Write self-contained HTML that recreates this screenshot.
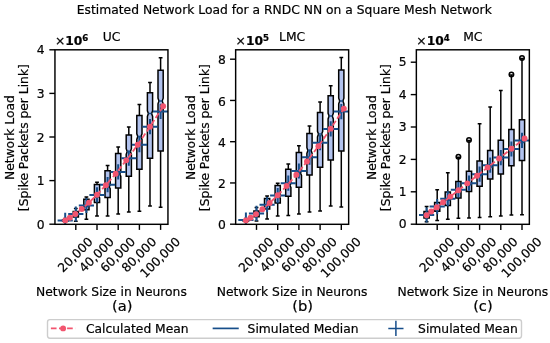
<!DOCTYPE html>
<html><head><meta charset="utf-8"><title>Estimated Network Load</title>
<style>html,body{margin:0;padding:0;background:#fff;}svg{display:block;}text{stroke:#000;stroke-width:0.2px;}</style></head>
<body>
<svg width="550" height="343" viewBox="0 0 550 343" font-family='"DejaVu Sans", "Liberation Sans", sans-serif' font-size="12.32" fill="#000">
<rect width="550" height="343" fill="#fff"/>
<text x="284.3" y="13.6" text-anchor="middle">Estimated Network Load for a RNDC NN on a Square Mesh Network</text>
<clipPath id="c0"><rect x="54.95" y="49.8" width="113.0" height="174.50"/></clipPath>
<g clip-path="url(#c0)">
<path d="M65.20 221.20V222.30M65.20 219.80V218.60M63.30 222.30H67.10M63.30 218.60H67.10" stroke="#000000" stroke-width="1.5" fill="none"/>
<path d="M62.60 221.20H67.80V219.80H62.60Z" fill="#b1c2ee" stroke="#000000" stroke-width="1.5" stroke-linejoin="miter"/>
<path d="M62.60 220.70H67.80" stroke="#174e8a" stroke-width="1.5"/>
<path d="M75.80 217.00V221.30M75.80 211.50V208.50M73.90 221.30H77.70M73.90 208.50H77.70" stroke="#000000" stroke-width="1.5" fill="none"/>
<path d="M73.20 217.00H78.40V211.50H73.20Z" fill="#b1c2ee" stroke="#000000" stroke-width="1.5" stroke-linejoin="miter"/>
<path d="M73.20 214.80H78.40" stroke="#174e8a" stroke-width="1.5"/>
<path d="M86.40 209.70V219.30M86.40 199.20V197.10M84.50 219.30H88.30M84.50 197.10H88.30" stroke="#000000" stroke-width="1.5" fill="none"/>
<path d="M83.80 209.70H89.00V199.20H83.80Z" fill="#b1c2ee" stroke="#000000" stroke-width="1.5" stroke-linejoin="miter"/>
<path d="M83.80 206.60H89.00" stroke="#174e8a" stroke-width="1.5"/>
<path d="M97.00 202.60V216.00M97.00 184.50V182.20M95.10 216.00H98.90M95.10 182.20H98.90" stroke="#000000" stroke-width="1.5" fill="none"/>
<path d="M94.40 202.60L99.60 202.60L99.60 197.77L98.61 196.50L99.60 195.23L99.60 184.50L94.40 184.50L94.40 195.23L95.39 196.50L94.40 197.77Z" fill="#b1c2ee" stroke="#000000" stroke-width="1.5" stroke-linejoin="miter"/>
<path d="M95.39 196.50H98.61" stroke="#174e8a" stroke-width="1.5"/>
<path d="M107.60 197.60V216.00M107.60 170.70V165.50M105.70 216.00H109.50M105.70 165.50H109.50" stroke="#000000" stroke-width="1.5" fill="none"/>
<path d="M105.00 197.60L110.20 197.60L110.20 188.68L109.21 186.80L110.20 184.92L110.20 170.70L105.00 170.70L105.00 184.92L105.99 186.80L105.00 188.68Z" fill="#b1c2ee" stroke="#000000" stroke-width="1.5" stroke-linejoin="miter"/>
<path d="M105.99 186.80H109.21" stroke="#174e8a" stroke-width="1.5"/>
<path d="M118.20 188.00V213.90M118.20 153.60V147.00M116.30 213.90H120.10M116.30 147.00H120.10" stroke="#000000" stroke-width="1.5" fill="none"/>
<path d="M115.60 188.00L120.80 188.00L120.80 176.41L119.81 174.00L120.80 171.59L120.80 153.60L115.60 153.60L115.60 171.59L116.59 174.00L115.60 176.41Z" fill="#b1c2ee" stroke="#000000" stroke-width="1.5" stroke-linejoin="miter"/>
<path d="M116.59 174.00H119.81" stroke="#174e8a" stroke-width="1.5"/>
<path d="M128.80 176.30V212.10M128.80 135.00V126.90M126.90 212.10H130.70M126.90 126.90H130.70" stroke="#000000" stroke-width="1.5" fill="none"/>
<path d="M126.20 176.30L131.40 176.30L131.40 154.30L130.41 151.50L131.40 148.70L131.40 135.00L126.20 135.00L126.20 148.70L127.19 151.50L126.20 154.30Z" fill="#b1c2ee" stroke="#000000" stroke-width="1.5" stroke-linejoin="miter"/>
<path d="M127.19 151.50H130.41" stroke="#174e8a" stroke-width="1.5"/>
<path d="M139.40 169.30V211.20M139.40 115.60V104.60M137.50 211.20H141.30M137.50 104.60H141.30" stroke="#000000" stroke-width="1.5" fill="none"/>
<path d="M136.80 169.30L142.00 169.30L142.00 139.40L141.01 136.60L142.00 133.80L142.00 115.60L136.80 115.60L136.80 133.80L137.79 136.60L136.80 139.40Z" fill="#b1c2ee" stroke="#000000" stroke-width="1.5" stroke-linejoin="miter"/>
<path d="M137.79 136.60H141.01" stroke="#174e8a" stroke-width="1.5"/>
<path d="M150.00 158.20V206.00M150.00 92.80V82.50M148.10 206.00H151.90M148.10 82.50H151.90" stroke="#000000" stroke-width="1.5" fill="none"/>
<path d="M147.40 158.20L152.60 158.20L152.60 116.40L151.61 113.60L152.60 110.80L152.60 92.80L147.40 92.80L147.40 110.80L148.39 113.60L147.40 116.40Z" fill="#b1c2ee" stroke="#000000" stroke-width="1.5" stroke-linejoin="miter"/>
<path d="M148.39 113.60H151.61" stroke="#174e8a" stroke-width="1.5"/>
<path d="M160.60 150.90V207.20M160.60 70.20V57.70M158.70 207.20H162.50M158.70 57.70H162.50" stroke="#000000" stroke-width="1.5" fill="none"/>
<path d="M158.00 150.90L163.20 150.90L163.20 103.80L162.21 101.00L163.20 98.20L163.20 70.20L158.00 70.20L158.00 98.20L158.99 101.00L158.00 103.80Z" fill="#b1c2ee" stroke="#000000" stroke-width="1.5" stroke-linejoin="miter"/>
<path d="M158.99 101.00H162.21" stroke="#174e8a" stroke-width="1.5"/>
<path d="M57.60 220.40H72.80M65.20 212.80V228.00" stroke="#174e8a" stroke-width="2.0" fill="none"/>
<path d="M68.20 214.00H83.40M75.80 206.40V221.60" stroke="#174e8a" stroke-width="2.0" fill="none"/>
<path d="M78.80 205.50H94.00M86.40 197.90V213.10" stroke="#174e8a" stroke-width="2.0" fill="none"/>
<path d="M89.40 194.90H104.60M97.00 187.30V202.50" stroke="#174e8a" stroke-width="2.0" fill="none"/>
<path d="M100.00 184.70H115.20M107.60 177.10V192.30" stroke="#174e8a" stroke-width="2.0" fill="none"/>
<path d="M110.60 171.90H125.80M118.20 164.30V179.50" stroke="#174e8a" stroke-width="2.0" fill="none"/>
<path d="M121.20 158.20H136.40M128.80 150.60V165.80" stroke="#174e8a" stroke-width="2.0" fill="none"/>
<path d="M131.80 144.70H147.00M139.40 137.10V152.30" stroke="#174e8a" stroke-width="2.0" fill="none"/>
<path d="M142.40 126.70H157.60M150.00 119.10V134.30" stroke="#174e8a" stroke-width="2.0" fill="none"/>
<path d="M153.00 111.40H168.20M160.60 103.80V119.00" stroke="#174e8a" stroke-width="2.0" fill="none"/>
<polyline points="65.20,220.40 69.86,217.68 75.38,213.93 81.74,208.97 88.94,202.63 97.00,194.76 105.90,185.20 115.66,173.78 126.26,160.34 137.70,144.72 150.00,126.77 163.14,106.32" fill="none" stroke="#f2556f" stroke-width="1.8" stroke-dasharray="5.65 2.45"/>
<circle cx="65.20" cy="220.40" r="2.95" fill="#f2556f"/>
<circle cx="69.86" cy="217.68" r="2.95" fill="#f2556f"/>
<circle cx="75.38" cy="213.93" r="2.95" fill="#f2556f"/>
<circle cx="81.74" cy="208.97" r="2.95" fill="#f2556f"/>
<circle cx="88.94" cy="202.63" r="2.95" fill="#f2556f"/>
<circle cx="97.00" cy="194.76" r="2.95" fill="#f2556f"/>
<circle cx="105.90" cy="185.20" r="2.95" fill="#f2556f"/>
<circle cx="115.66" cy="173.78" r="2.95" fill="#f2556f"/>
<circle cx="126.26" cy="160.34" r="2.95" fill="#f2556f"/>
<circle cx="137.70" cy="144.72" r="2.95" fill="#f2556f"/>
<circle cx="150.00" cy="126.77" r="2.95" fill="#f2556f"/>
<circle cx="163.14" cy="106.32" r="2.95" fill="#f2556f"/>
</g>
<rect x="54.95" y="49.8" width="113.0" height="174.50" fill="none" stroke="#000" stroke-width="1.45"/>
<path d="M54.95 224.20h-5.6" stroke="#000" stroke-width="1.4"/>
<text x="44.60" y="228.75" text-anchor="end">0</text>
<path d="M54.95 180.60h-5.6" stroke="#000" stroke-width="1.4"/>
<text x="44.60" y="185.15" text-anchor="end">1</text>
<path d="M54.95 137.00h-5.6" stroke="#000" stroke-width="1.4"/>
<text x="44.60" y="141.55" text-anchor="end">2</text>
<path d="M54.95 93.40h-5.6" stroke="#000" stroke-width="1.4"/>
<text x="44.60" y="97.95" text-anchor="end">3</text>
<path d="M54.95 49.80h-5.6" stroke="#000" stroke-width="1.4"/>
<text x="44.60" y="54.35" text-anchor="end">4</text>
<path d="M75.80 224.3v5.6" stroke="#000" stroke-width="1.4"/>
<text transform="translate(75.30 254.76) rotate(-45)" text-anchor="middle" y="4.3">20,000</text>
<path d="M97.00 224.3v5.6" stroke="#000" stroke-width="1.4"/>
<text transform="translate(96.50 254.76) rotate(-45)" text-anchor="middle" y="4.3">40,000</text>
<path d="M118.20 224.3v5.6" stroke="#000" stroke-width="1.4"/>
<text transform="translate(117.70 254.76) rotate(-45)" text-anchor="middle" y="4.3">60,000</text>
<path d="M139.40 224.3v5.6" stroke="#000" stroke-width="1.4"/>
<text transform="translate(138.90 254.76) rotate(-45)" text-anchor="middle" y="4.3">80,000</text>
<path d="M160.60 224.3v5.6" stroke="#000" stroke-width="1.4"/>
<text transform="translate(160.10 257.53) rotate(-45)" text-anchor="middle" y="4.3">100,000</text>
<text x="54.90" y="44.8">×<tspan font-weight="bold">10</tspan><tspan font-weight="bold" font-size="8.62" dy="-4.2">6</tspan></text>
<text x="111.45" y="40.5" text-anchor="middle">UC</text>
<text transform="translate(13.80 137.65) rotate(-90)" text-anchor="middle">Network Load</text>
<text transform="translate(28.10 137.65) rotate(-90)" text-anchor="middle">[Spike Packets per Link]</text>
<text x="111.45" y="295.5" text-anchor="middle">Network Size in Neurons</text>
<text x="122.30" y="310.5" text-anchor="middle" font-size="14.7">(a)</text>
<clipPath id="c1"><rect x="235.65" y="49.8" width="113.0" height="174.50"/></clipPath>
<g clip-path="url(#c1)">
<path d="M245.90 221.20V222.30M245.90 219.80V218.60M244.00 222.30H247.80M244.00 218.60H247.80" stroke="#000000" stroke-width="1.5" fill="none"/>
<path d="M243.30 221.20H248.50V219.80H243.30Z" fill="#b1c2ee" stroke="#000000" stroke-width="1.5" stroke-linejoin="miter"/>
<path d="M243.30 220.70H248.50" stroke="#174e8a" stroke-width="1.5"/>
<path d="M256.50 216.80V221.00M256.50 211.00V207.50M254.60 221.00H258.40M254.60 207.50H258.40" stroke="#000000" stroke-width="1.5" fill="none"/>
<path d="M253.90 216.80H259.10V211.00H253.90Z" fill="#b1c2ee" stroke="#000000" stroke-width="1.5" stroke-linejoin="miter"/>
<path d="M253.90 214.50H259.10" stroke="#174e8a" stroke-width="1.5"/>
<path d="M267.10 209.00V218.90M267.10 198.50V195.90M265.20 218.90H269.00M265.20 195.90H269.00" stroke="#000000" stroke-width="1.5" fill="none"/>
<path d="M264.50 209.00H269.70V198.50H264.50Z" fill="#b1c2ee" stroke="#000000" stroke-width="1.5" stroke-linejoin="miter"/>
<path d="M264.50 205.80H269.70" stroke="#174e8a" stroke-width="1.5"/>
<path d="M277.70 202.90V216.00M277.70 185.50V183.20M275.80 216.00H279.60M275.80 183.20H279.60" stroke="#000000" stroke-width="1.5" fill="none"/>
<path d="M275.10 202.90L280.30 202.90L280.30 198.22L279.31 197.00L280.30 195.78L280.30 185.50L275.10 185.50L275.10 195.78L276.09 197.00L275.10 198.22Z" fill="#b1c2ee" stroke="#000000" stroke-width="1.5" stroke-linejoin="miter"/>
<path d="M276.09 197.00H279.31" stroke="#174e8a" stroke-width="1.5"/>
<path d="M288.30 196.20V215.60M288.30 169.20V164.00M286.40 215.60H290.20M286.40 164.00H290.20" stroke="#000000" stroke-width="1.5" fill="none"/>
<path d="M285.70 196.20L290.90 196.20L290.90 187.39L289.91 185.50L290.90 183.61L290.90 169.20L285.70 169.20L285.70 183.61L286.69 185.50L285.70 187.39Z" fill="#b1c2ee" stroke="#000000" stroke-width="1.5" stroke-linejoin="miter"/>
<path d="M286.69 185.50H289.91" stroke="#174e8a" stroke-width="1.5"/>
<path d="M298.90 187.30V213.90M298.90 152.60V145.80M297.00 213.90H300.80M297.00 145.80H300.80" stroke="#000000" stroke-width="1.5" fill="none"/>
<path d="M296.30 187.30L301.50 187.30L301.50 175.43L300.51 173.00L301.50 170.57L301.50 152.60L296.30 152.60L296.30 170.57L297.29 173.00L296.30 175.43Z" fill="#b1c2ee" stroke="#000000" stroke-width="1.5" stroke-linejoin="miter"/>
<path d="M297.29 173.00H300.51" stroke="#174e8a" stroke-width="1.5"/>
<path d="M309.50 175.00V211.90M309.50 133.60V126.00M307.60 211.90H311.40M307.60 126.00H311.40" stroke="#000000" stroke-width="1.5" fill="none"/>
<path d="M306.90 175.00L312.10 175.00L312.10 153.30L311.11 150.50L312.10 147.70L312.10 133.60L306.90 133.60L306.90 147.70L307.89 150.50L306.90 153.30Z" fill="#b1c2ee" stroke="#000000" stroke-width="1.5" stroke-linejoin="miter"/>
<path d="M307.89 150.50H311.11" stroke="#174e8a" stroke-width="1.5"/>
<path d="M320.10 167.20V211.00M320.10 112.60V101.90M318.20 211.00H322.00M318.20 101.90H322.00" stroke="#000000" stroke-width="1.5" fill="none"/>
<path d="M317.50 167.20L322.70 167.20L322.70 136.90L321.71 134.10L322.70 131.30L322.70 112.60L317.50 112.60L317.50 131.30L318.49 134.10L317.50 136.90Z" fill="#b1c2ee" stroke="#000000" stroke-width="1.5" stroke-linejoin="miter"/>
<path d="M318.49 134.10H321.71" stroke="#174e8a" stroke-width="1.5"/>
<path d="M330.70 159.90V206.10M330.70 95.70V85.80M328.80 206.10H332.60M328.80 85.80H332.60" stroke="#000000" stroke-width="1.5" fill="none"/>
<path d="M328.10 159.90L333.30 159.90L333.30 118.90L332.31 116.10L333.30 113.30L333.30 95.70L328.10 95.70L328.10 113.30L329.09 116.10L328.10 118.90Z" fill="#b1c2ee" stroke="#000000" stroke-width="1.5" stroke-linejoin="miter"/>
<path d="M329.09 116.10H332.31" stroke="#174e8a" stroke-width="1.5"/>
<path d="M341.30 151.00V206.90M341.30 70.10V57.60M339.40 206.90H343.20M339.40 57.60H343.20" stroke="#000000" stroke-width="1.5" fill="none"/>
<path d="M338.70 151.00L343.90 151.00L343.90 103.80L342.91 101.00L343.90 98.20L343.90 70.10L338.70 70.10L338.70 98.20L339.69 101.00L338.70 103.80Z" fill="#b1c2ee" stroke="#000000" stroke-width="1.5" stroke-linejoin="miter"/>
<path d="M339.69 101.00H342.91" stroke="#174e8a" stroke-width="1.5"/>
<path d="M238.30 220.00H253.50M245.90 212.40V227.60" stroke="#174e8a" stroke-width="2.0" fill="none"/>
<path d="M248.90 213.40H264.10M256.50 205.80V221.00" stroke="#174e8a" stroke-width="2.0" fill="none"/>
<path d="M259.50 204.70H274.70M267.10 197.10V212.30" stroke="#174e8a" stroke-width="2.0" fill="none"/>
<path d="M270.10 195.60H285.30M277.70 188.00V203.20" stroke="#174e8a" stroke-width="2.0" fill="none"/>
<path d="M280.70 183.20H295.90M288.30 175.60V190.80" stroke="#174e8a" stroke-width="2.0" fill="none"/>
<path d="M291.30 171.00H306.50M298.90 163.40V178.60" stroke="#174e8a" stroke-width="2.0" fill="none"/>
<path d="M301.90 157.20H317.10M309.50 149.60V164.80" stroke="#174e8a" stroke-width="2.0" fill="none"/>
<path d="M312.50 142.70H327.70M320.10 135.10V150.30" stroke="#174e8a" stroke-width="2.0" fill="none"/>
<path d="M323.10 128.90H338.30M330.70 121.30V136.50" stroke="#174e8a" stroke-width="2.0" fill="none"/>
<path d="M333.70 111.60H348.90M341.30 104.00V119.20" stroke="#174e8a" stroke-width="2.0" fill="none"/>
<polyline points="245.90,220.45 250.56,217.79 256.08,214.10 262.44,209.22 269.64,203.00 277.70,195.28 286.60,185.90 296.36,174.70 306.96,161.53 318.40,146.22 330.70,128.64 343.84,108.61" fill="none" stroke="#f2556f" stroke-width="1.8" stroke-dasharray="5.65 2.45"/>
<circle cx="245.90" cy="220.45" r="2.95" fill="#f2556f"/>
<circle cx="250.56" cy="217.79" r="2.95" fill="#f2556f"/>
<circle cx="256.08" cy="214.10" r="2.95" fill="#f2556f"/>
<circle cx="262.44" cy="209.22" r="2.95" fill="#f2556f"/>
<circle cx="269.64" cy="203.00" r="2.95" fill="#f2556f"/>
<circle cx="277.70" cy="195.28" r="2.95" fill="#f2556f"/>
<circle cx="286.60" cy="185.90" r="2.95" fill="#f2556f"/>
<circle cx="296.36" cy="174.70" r="2.95" fill="#f2556f"/>
<circle cx="306.96" cy="161.53" r="2.95" fill="#f2556f"/>
<circle cx="318.40" cy="146.22" r="2.95" fill="#f2556f"/>
<circle cx="330.70" cy="128.64" r="2.95" fill="#f2556f"/>
<circle cx="343.84" cy="108.61" r="2.95" fill="#f2556f"/>
</g>
<rect x="235.65" y="49.8" width="113.0" height="174.50" fill="none" stroke="#000" stroke-width="1.45"/>
<path d="M235.65 224.20h-5.6" stroke="#000" stroke-width="1.4"/>
<text x="225.80" y="229.45" text-anchor="end">0</text>
<path d="M235.65 182.95h-5.6" stroke="#000" stroke-width="1.4"/>
<text x="225.80" y="188.20" text-anchor="end">2</text>
<path d="M235.65 141.70h-5.6" stroke="#000" stroke-width="1.4"/>
<text x="225.80" y="146.95" text-anchor="end">4</text>
<path d="M235.65 100.45h-5.6" stroke="#000" stroke-width="1.4"/>
<text x="225.80" y="105.70" text-anchor="end">6</text>
<path d="M235.65 59.20h-5.6" stroke="#000" stroke-width="1.4"/>
<text x="225.80" y="64.45" text-anchor="end">8</text>
<path d="M256.50 224.3v5.6" stroke="#000" stroke-width="1.4"/>
<text transform="translate(256.00 254.76) rotate(-45)" text-anchor="middle" y="4.3">20,000</text>
<path d="M277.70 224.3v5.6" stroke="#000" stroke-width="1.4"/>
<text transform="translate(277.20 254.76) rotate(-45)" text-anchor="middle" y="4.3">40,000</text>
<path d="M298.90 224.3v5.6" stroke="#000" stroke-width="1.4"/>
<text transform="translate(298.40 254.76) rotate(-45)" text-anchor="middle" y="4.3">60,000</text>
<path d="M320.10 224.3v5.6" stroke="#000" stroke-width="1.4"/>
<text transform="translate(319.60 254.76) rotate(-45)" text-anchor="middle" y="4.3">80,000</text>
<path d="M341.30 224.3v5.6" stroke="#000" stroke-width="1.4"/>
<text transform="translate(340.80 257.53) rotate(-45)" text-anchor="middle" y="4.3">100,000</text>
<text x="235.60" y="44.8">×<tspan font-weight="bold">10</tspan><tspan font-weight="bold" font-size="8.62" dy="-4.2">5</tspan></text>
<text x="292.15" y="40.5" text-anchor="middle">LMC</text>
<text transform="translate(194.50 137.65) rotate(-90)" text-anchor="middle">Network Load</text>
<text transform="translate(208.80 137.65) rotate(-90)" text-anchor="middle">[Spike Packets per Link]</text>
<text x="292.15" y="295.5" text-anchor="middle">Network Size in Neurons</text>
<text x="302.60" y="310.5" text-anchor="middle" font-size="14.7">(b)</text>
<clipPath id="c2"><rect x="416.35" y="49.8" width="113.0" height="174.50"/></clipPath>
<g clip-path="url(#c2)">
<path d="M426.60 218.00V221.80M426.60 211.50V206.60M424.70 221.80H428.50M424.70 206.60H428.50" stroke="#000000" stroke-width="1.5" fill="none"/>
<path d="M424.00 218.00H429.20V211.50H424.00Z" fill="#b1c2ee" stroke="#000000" stroke-width="1.5" stroke-linejoin="miter"/>
<path d="M424.00 215.80H429.20" stroke="#174e8a" stroke-width="1.5"/>
<path d="M437.20 211.30V220.40M437.20 202.60V189.70M435.30 220.40H439.10M435.30 189.70H439.10" stroke="#000000" stroke-width="1.5" fill="none"/>
<path d="M434.60 211.30H439.80V202.60H434.60Z" fill="#b1c2ee" stroke="#000000" stroke-width="1.5" stroke-linejoin="miter"/>
<path d="M434.60 207.80H439.80" stroke="#174e8a" stroke-width="1.5"/>
<path d="M447.80 205.50V219.20M447.80 192.00V172.70M445.90 219.20H449.70M445.90 172.70H449.70" stroke="#000000" stroke-width="1.5" fill="none"/>
<path d="M445.20 205.50H450.40V192.00H445.20Z" fill="#b1c2ee" stroke="#000000" stroke-width="1.5" stroke-linejoin="miter"/>
<path d="M445.20 200.20H450.40" stroke="#174e8a" stroke-width="1.5"/>
<path d="M458.40 198.00V218.30M458.40 181.50V157.30M456.50 218.30H460.30M456.50 157.30H460.30" stroke="#000000" stroke-width="1.5" fill="none"/>
<path d="M455.80 198.00H461.00V181.50H455.80Z" fill="#b1c2ee" stroke="#000000" stroke-width="1.5" stroke-linejoin="miter"/>
<path d="M455.80 191.50H461.00" stroke="#174e8a" stroke-width="1.5"/>
<circle cx="458.40" cy="156.80" r="2.25" fill="none" stroke="#000000" stroke-width="1.5"/>
<path d="M469.00 191.50V218.00M469.00 171.20V140.50M467.10 218.00H470.90M467.10 140.50H470.90" stroke="#000000" stroke-width="1.5" fill="none"/>
<path d="M466.40 191.50H471.60V171.20H466.40Z" fill="#b1c2ee" stroke="#000000" stroke-width="1.5" stroke-linejoin="miter"/>
<path d="M466.40 184.80H471.60" stroke="#174e8a" stroke-width="1.5"/>
<circle cx="469.00" cy="140.00" r="2.25" fill="none" stroke="#000000" stroke-width="1.5"/>
<path d="M479.60 186.30V217.40M479.60 160.90V123.70M477.70 217.40H481.50M477.70 123.70H481.50" stroke="#000000" stroke-width="1.5" fill="none"/>
<path d="M477.00 186.30H482.20V160.90H477.00Z" fill="#b1c2ee" stroke="#000000" stroke-width="1.5" stroke-linejoin="miter"/>
<path d="M477.00 175.50H482.20" stroke="#174e8a" stroke-width="1.5"/>
<path d="M490.20 178.90V216.80M490.20 150.40V107.00M488.30 216.80H492.10M488.30 107.00H492.10" stroke="#000000" stroke-width="1.5" fill="none"/>
<path d="M487.60 178.90H492.80V150.40H487.60Z" fill="#b1c2ee" stroke="#000000" stroke-width="1.5" stroke-linejoin="miter"/>
<path d="M487.60 167.00H492.80" stroke="#174e8a" stroke-width="1.5"/>
<path d="M500.80 173.90V215.90M500.80 140.20V90.50M498.90 215.90H502.70M498.90 90.50H502.70" stroke="#000000" stroke-width="1.5" fill="none"/>
<path d="M498.20 173.90H503.40V140.20H498.20Z" fill="#b1c2ee" stroke="#000000" stroke-width="1.5" stroke-linejoin="miter"/>
<path d="M498.20 159.30H503.40" stroke="#174e8a" stroke-width="1.5"/>
<path d="M511.40 165.70V215.10M511.40 129.50V75.10M509.50 215.10H513.30M509.50 75.10H513.30" stroke="#000000" stroke-width="1.5" fill="none"/>
<path d="M508.80 165.70H514.00V129.50H508.80Z" fill="#b1c2ee" stroke="#000000" stroke-width="1.5" stroke-linejoin="miter"/>
<path d="M508.80 150.80H514.00" stroke="#174e8a" stroke-width="1.5"/>
<circle cx="511.40" cy="74.60" r="2.25" fill="none" stroke="#000000" stroke-width="1.5"/>
<path d="M522.00 160.40V214.70M522.00 119.80V58.40M520.10 214.70H523.90M520.10 58.40H523.90" stroke="#000000" stroke-width="1.5" fill="none"/>
<path d="M519.40 160.40H524.60V119.80H519.40Z" fill="#b1c2ee" stroke="#000000" stroke-width="1.5" stroke-linejoin="miter"/>
<path d="M519.40 142.50H524.60" stroke="#174e8a" stroke-width="1.5"/>
<circle cx="522.00" cy="57.90" r="2.25" fill="none" stroke="#000000" stroke-width="1.5"/>
<path d="M419.00 215.00H434.20M426.60 207.40V222.60" stroke="#174e8a" stroke-width="2.0" fill="none"/>
<path d="M429.60 206.60H444.80M437.20 199.00V214.20" stroke="#174e8a" stroke-width="2.0" fill="none"/>
<path d="M440.20 198.70H455.40M447.80 191.10V206.30" stroke="#174e8a" stroke-width="2.0" fill="none"/>
<path d="M450.80 189.70H466.00M458.40 182.10V197.30" stroke="#174e8a" stroke-width="2.0" fill="none"/>
<path d="M461.40 183.20H476.60M469.00 175.60V190.80" stroke="#174e8a" stroke-width="2.0" fill="none"/>
<path d="M472.00 174.20H487.20M479.60 166.60V181.80" stroke="#174e8a" stroke-width="2.0" fill="none"/>
<path d="M482.60 165.20H497.80M490.20 157.60V172.80" stroke="#174e8a" stroke-width="2.0" fill="none"/>
<path d="M493.20 157.60H508.40M500.80 150.00V165.20" stroke="#174e8a" stroke-width="2.0" fill="none"/>
<path d="M503.80 149.00H519.00M511.40 141.40V156.60" stroke="#174e8a" stroke-width="2.0" fill="none"/>
<path d="M514.40 140.40H529.60M522.00 132.80V148.00" stroke="#174e8a" stroke-width="2.0" fill="none"/>
<polyline points="426.60,215.20 431.26,211.55 436.78,207.23 443.14,202.25 450.34,196.61 458.40,190.30 467.30,183.33 477.06,175.69 487.66,167.39 499.10,158.43 511.40,148.80 524.54,138.51" fill="none" stroke="#f2556f" stroke-width="1.8" stroke-dasharray="5.65 2.45"/>
<circle cx="426.60" cy="215.20" r="2.95" fill="#f2556f"/>
<circle cx="431.26" cy="211.55" r="2.95" fill="#f2556f"/>
<circle cx="436.78" cy="207.23" r="2.95" fill="#f2556f"/>
<circle cx="443.14" cy="202.25" r="2.95" fill="#f2556f"/>
<circle cx="450.34" cy="196.61" r="2.95" fill="#f2556f"/>
<circle cx="458.40" cy="190.30" r="2.95" fill="#f2556f"/>
<circle cx="467.30" cy="183.33" r="2.95" fill="#f2556f"/>
<circle cx="477.06" cy="175.69" r="2.95" fill="#f2556f"/>
<circle cx="487.66" cy="167.39" r="2.95" fill="#f2556f"/>
<circle cx="499.10" cy="158.43" r="2.95" fill="#f2556f"/>
<circle cx="511.40" cy="148.80" r="2.95" fill="#f2556f"/>
<circle cx="524.54" cy="138.51" r="2.95" fill="#f2556f"/>
</g>
<rect x="416.35" y="49.8" width="113.0" height="174.50" fill="none" stroke="#000" stroke-width="1.45"/>
<path d="M416.35 224.20h-5.6" stroke="#000" stroke-width="1.4"/>
<text x="406.70" y="228.45" text-anchor="end">0</text>
<path d="M416.35 191.80h-5.6" stroke="#000" stroke-width="1.4"/>
<text x="406.70" y="196.05" text-anchor="end">1</text>
<path d="M416.35 159.40h-5.6" stroke="#000" stroke-width="1.4"/>
<text x="406.70" y="163.65" text-anchor="end">2</text>
<path d="M416.35 127.00h-5.6" stroke="#000" stroke-width="1.4"/>
<text x="406.70" y="131.25" text-anchor="end">3</text>
<path d="M416.35 94.60h-5.6" stroke="#000" stroke-width="1.4"/>
<text x="406.70" y="98.85" text-anchor="end">4</text>
<path d="M416.35 62.20h-5.6" stroke="#000" stroke-width="1.4"/>
<text x="406.70" y="66.45" text-anchor="end">5</text>
<path d="M437.20 224.3v5.6" stroke="#000" stroke-width="1.4"/>
<text transform="translate(436.70 254.76) rotate(-45)" text-anchor="middle" y="4.3">20,000</text>
<path d="M458.40 224.3v5.6" stroke="#000" stroke-width="1.4"/>
<text transform="translate(457.90 254.76) rotate(-45)" text-anchor="middle" y="4.3">40,000</text>
<path d="M479.60 224.3v5.6" stroke="#000" stroke-width="1.4"/>
<text transform="translate(479.10 254.76) rotate(-45)" text-anchor="middle" y="4.3">60,000</text>
<path d="M500.80 224.3v5.6" stroke="#000" stroke-width="1.4"/>
<text transform="translate(500.30 254.76) rotate(-45)" text-anchor="middle" y="4.3">80,000</text>
<path d="M522.00 224.3v5.6" stroke="#000" stroke-width="1.4"/>
<text transform="translate(521.50 257.53) rotate(-45)" text-anchor="middle" y="4.3">100,000</text>
<text x="416.30" y="44.8">×<tspan font-weight="bold">10</tspan><tspan font-weight="bold" font-size="8.62" dy="-4.2">4</tspan></text>
<text x="472.85" y="40.5" text-anchor="middle">MC</text>
<text transform="translate(375.80 137.65) rotate(-90)" text-anchor="middle">Network Load</text>
<text transform="translate(390.10 137.65) rotate(-90)" text-anchor="middle">[Spike Packets per Link]</text>
<text x="472.85" y="295.5" text-anchor="middle">Network Size in Neurons</text>
<text x="482.90" y="310.5" text-anchor="middle" font-size="14.7">(c)</text>
<rect x="47.5" y="319.6" width="474" height="18.6" rx="2.4" fill="#fff" stroke="#cdcdcd" stroke-width="1.4"/>
<path d="M50.9 328.4H75.3" stroke="#f2556f" stroke-width="1.8" stroke-dasharray="5.65 2.45"/><circle cx="63.1" cy="328.4" r="2.95" fill="#f2556f"/>
<text x="85.9" y="332.7">Calculated Mean</text>
<path d="M213.5 328.4H237.9" stroke="#174e8a" stroke-width="1.7" stroke-linecap="square"/>
<text x="247.6" y="332.7">Simulated Median</text>
<path d="M388.29999999999995 328.4H403.5M395.9 320.79999999999995V336.0" stroke="#174e8a" stroke-width="1.5"/>
<text x="418.1" y="332.7">Simulated Mean</text>
</svg>
</body></html>
